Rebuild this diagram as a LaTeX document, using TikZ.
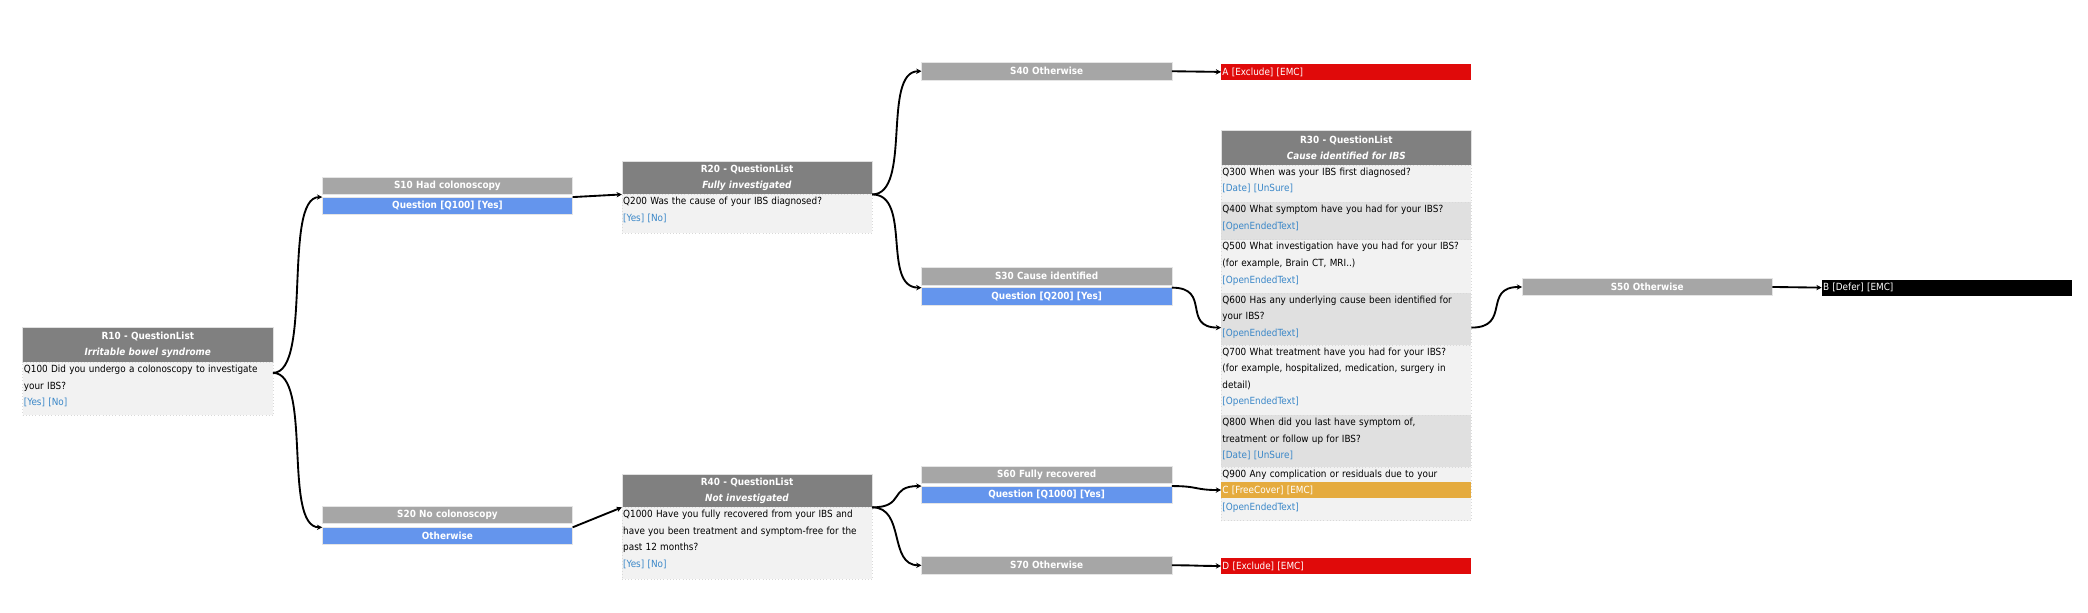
\documentclass[tikz,border=0pt]{standalone}
\usepackage{fontspec}
\setmainfont{DejaVu Sans Condensed}
\usetikzlibrary{calc,arrows.meta}
\definecolor{hdr}{HTML}{808080}
\definecolor{sg}{HTML}{A6A6A6}
\definecolor{blu}{HTML}{6495ED}
\definecolor{bod}{HTML}{F2F2F2}
\definecolor{bod2}{HTML}{E0E0E0}
\definecolor{lnk}{HTML}{3A87C8}
\definecolor{redx}{HTML}{E00A0A}
\definecolor{orn}{HTML}{E5AB3E}
\newcommand{\lk}[1]{\textcolor{lnk}{#1}}
\newcommand{\bx}[2]{\parbox[t][#1][t]{186pt}{\vspace*{1pt}#2}}
\begin{document}
\begin{tikzpicture}[x=1pt,y=1pt,
  font=\fontsize{7.4}{12.5}\selectfont,
  base/.style={anchor=north west,inner sep=0pt,outer sep=0pt,minimum width=188pt,text width=186pt},
  hdrbox/.style={base,fill=hdr,text=white,font=\fontsize{7.4}{12}\selectfont\bfseries,align=center,draw=black!12},
  sbox/.style={base,fill=sg,text=white,font=\fontsize{7.4}{12}\selectfont\bfseries,align=center,minimum height=13pt,draw=black!10},
  bbox/.style={base,fill=blu,text=white,font=\fontsize{7.4}{12}\selectfont\bfseries,align=center,minimum height=13pt,draw=black!10},
  body/.style={base,fill=bod,align=left,draw=black!15,dotted,inner xsep=1pt,text width=186pt},
  res/.style={anchor=north west,inner sep=0pt,outer sep=0pt,minimum width=188pt,text width=186pt,minimum height=12pt,text=white,align=left,inner xsep=1pt},
  conn/.style={line width=1.4pt,-{Stealth[length=4pt,width=4pt]}}]
\useasboundingbox (0,0) rectangle (1568,-460);
% R10
\node[hdrbox,minimum height=26pt] (R10h) at (17,-246) {R10 - QuestionList\\\textit{Irritable bowel syndrome}};
\node[body,minimum height=40pt] (R10b) at (17,-272) {\bx{38pt}{Q100 Did you undergo a colonoscopy to investigate\\your IBS?\\\lk{[Yes] [No]}}};
% S10
\node[sbox] (S10h) at (242,-133) {S10 Had colonoscopy};
\node[bbox] (S10b) at (242,-148) {Question [Q100] [Yes]};
% S20
\node[sbox] (S20h) at (242,-380) {S20 No colonoscopy};
\node[bbox] (S20b) at (242,-396) {Otherwise};
% R20
\node[hdrbox,minimum height=25pt] (R20h) at (467,-121) {R20 - QuestionList\\\textit{Fully investigated}};
\node[body,minimum height=29pt] (R20b) at (467,-146) {\bx{27pt}{Q200 Was the cause of your IBS diagnosed?\\\lk{[Yes] [No]}}};
% R40
\node[hdrbox,minimum height=25pt] (R40h) at (467,-356) {R40 - QuestionList\\\textit{Not investigated}};
\node[body,minimum height=54pt] (R40b) at (467,-381) {\bx{52pt}{Q1000 Have you fully recovered from your IBS and\\have you been treatment and symptom-free for the\\past 12 months?\\\lk{[Yes] [No]}}};
% S40, S30, S60, S70
\node[sbox] (S40h) at (692,-47) {S40 Otherwise};
\node[sbox] (S30h) at (692,-201) {S30 Cause identified};
\node[bbox] (S30b) at (692,-216) {Question [Q200] [Yes]};
\node[sbox] (S60h) at (692,-350) {S60 Fully recovered};
\node[bbox] (S60b) at (692,-365) {Question [Q1000] [Yes]};
\node[sbox] (S70h) at (692,-418) {S70 Otherwise};
% R30
\node[hdrbox,minimum height=26pt] (R30h) at (917,-98) {R30 - QuestionList\\\textit{Cause identified for IBS}};
\node[body,minimum height=28pt] (Q300) at (917,-124) {\bx{26pt}{Q300 When was your IBS first diagnosed?\\\lk{[Date] [UnSure]}}};
\node[body,fill=bod2,minimum height=28pt] (Q400) at (917,-152) {\bx{26pt}{Q400 What symptom have you had for your IBS?\\\lk{[OpenEndedText]}}};
\node[body,minimum height=40pt] (Q500) at (917,-180) {\bx{38pt}{Q500 What investigation have you had for your IBS?\\(for example, Brain CT, MRI..)\\\lk{[OpenEndedText]}}};
\node[body,fill=bod2,minimum height=39pt] (Q600) at (917,-220) {\bx{37pt}{Q600 Has any underlying cause been identified for\\your IBS?\\\lk{[OpenEndedText]}}};
\node[body,minimum height=53pt] (Q700) at (917,-259) {\bx{51pt}{Q700 What treatment have you had for your IBS?\\(for example, hospitalized, medication, surgery in\\detail)\\\lk{[OpenEndedText]}}};
\node[body,fill=bod2,minimum height=39pt] (Q800) at (917,-312) {\bx{37pt}{Q800 When did you last have symptom of,\\treatment or follow up for IBS?\\\lk{[Date] [UnSure]}}};
\node[body,minimum height=40pt] (Q900) at (917,-351) {\bx{38pt}{Q900 Any complication or residuals due to your\\IBS? If yes, please describe in detail.\\\lk{[OpenEndedText]}}};
% S50
\node[sbox] (S50h) at (1143,-209) {S50 Otherwise};
% results
\node[res,fill=redx] (A) at (917,-48) {A [Exclude] [EMC]};
\node[res,fill=black] (B) at (1368,-210) {B [Defer] [EMC]};
\node[res,fill=orn] (C) at (917,-362) {C [FreeCover] [EMC]};
\node[res,fill=redx] (D) at (917,-419) {D [Exclude] [EMC]};
% connectors
\coordinate (r10o) at ($(R10b.north east)+(0,-8)$);
\draw[conn] (r10o) .. controls +(30,0) and +(-30,0) .. (S10b.north west);
\draw[conn] (r10o) .. controls +(30,0) and +(-30,0) .. (S20b.north west);
\draw[conn] (S10b.north east) -- (R20b.north west);
\draw[conn] (S20b.north east) -- (R40b.north west);
\draw[conn] (R20b.north east) .. controls +(30,0) and +(-30,0) .. (S40h.west);
\draw[conn] (R20b.north east) .. controls +(30,0) and +(-30,0) .. (S30b.north west);
\draw[conn] (R40b.north east) .. controls +(25,0) and +(-25,0) .. (S60b.north west);
\draw[conn] (R40b.north east) .. controls +(25,0) and +(-25,0) .. (S70h.west);
\draw[conn] (S40h.east) -- (A.west);
\draw[conn] (S30b.north east) .. controls +(30,0) and +(-30,0) .. ($(Q600.north west)+(0,-26)$);
\coordinate (r30o) at ($(Q600.north east)+(0,-26)$);
\draw[conn] (r30o) .. controls +(30,0) and +(-30,0) .. (S50h.west);
\draw[conn] (S50h.east) -- (B.west);
\draw[conn] (S60b.north east) .. controls +(20,0) and +(-20,0) .. (C.west);
\draw[conn] (S70h.east) .. controls +(20,0) and +(-20,0) .. (D.west);
\end{tikzpicture}
\end{document}
